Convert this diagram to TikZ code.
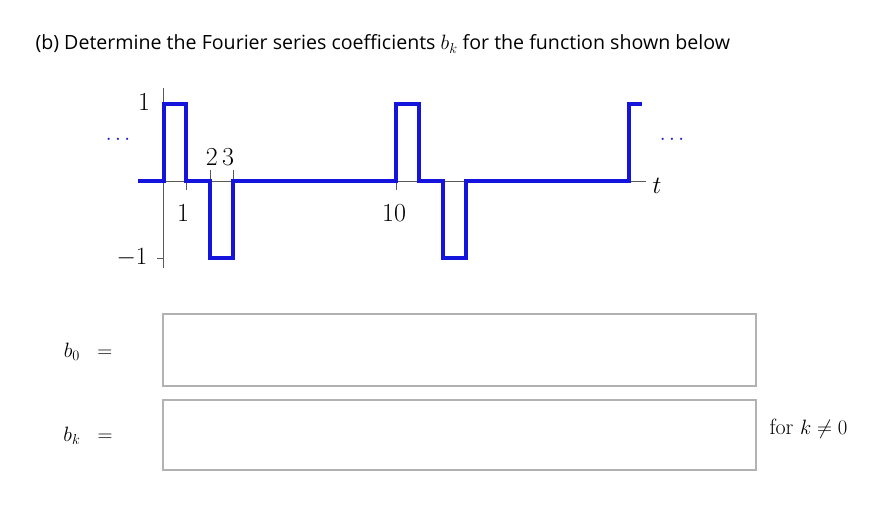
\documentclass[tikz,border=0pt]{standalone}
\usepackage{fontspec}
\newfontfamily\titlefont{Open Sans}
\begin{document}
\begin{tikzpicture}[x=1pt,y=-1pt,
  sig/.style={draw={rgb,255:red,20;green,20;blue,220},line width=3.6pt},
  ax/.style={draw=gray!70!black,line width=0.9pt},
  lab/.style={font=\fontsize{26}{26}\selectfont},
  ansbox/.style={draw=gray!60,line width=1.1pt}]
\useasboundingbox (0,0) rectangle (874,509);
\node[anchor=west,font=\titlefont\fontsize{19.6}{22}\selectfont] (title) at (32,44) {(b) Determine the Fourier series coefficients $b_k$ for the function shown below};
% axes
\draw[ax] (163,88) -- (163,268);
\draw[ax] (140,181) -- (646,181);
\draw[ax] (157,258) -- (163,258);
\draw[ax] (186,181) -- (186,190);
\draw[ax] (396,181) -- (396,190);
\draw[ax] (210,170) -- (210,181);
\draw[ax] (233,170) -- (233,181);
% signal
\draw[sig,line join=miter] (138,181) -- (164,181) -- (164,104) -- (186,104) -- (186,181) -- (210,181) -- (210,258) -- (233,258) -- (233,181)
 -- (396,181) -- (396,104) -- (419,104) -- (419,181) -- (443,181) -- (443,258) -- (466,258) -- (466,181) -- (629,181) -- (629,104) -- (642,104);
% labels
\node[lab] (one) at (144,102) {1};
\node[lab] (mone) at (132,258) {$-1$};
\node[lab] (l1) at (183,213) {1};
\node[lab] (l10) at (394,213) {10};
\node[lab] (l23) at (220,157) {2\,3};
\node[lab] (lt) at (657,186) {$t$};
\node[text={rgb,255:red,20;green,20;blue,220},font=\fontsize{22}{22}\selectfont] (d1) at (118,140) {$\cdots$};
\node[text={rgb,255:red,20;green,20;blue,220},font=\fontsize{22}{22}\selectfont] (d2) at (672,140) {$\cdots$};
% answers
\node[font=\fontsize{22}{22}\selectfont] (b0) at (88,352) {$b_0\;\;=$};
\node[font=\fontsize{22}{22}\selectfont] (bk) at (88,436) {$b_k\;\;=$};
\draw[ansbox] (163,314) rectangle (756,386);
\draw[ansbox] (163,400) rectangle (756,470);
\node[font=\fontsize{22}{22}\selectfont,anchor=west] (fk) at (766,429) {for $k\neq0$};
\end{tikzpicture}
\end{document}
